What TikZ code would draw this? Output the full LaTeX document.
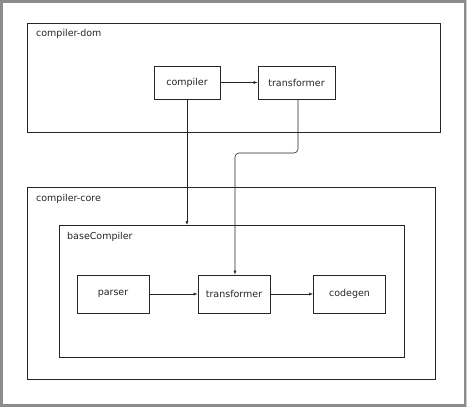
\documentclass[tikz,border=0pt]{standalone}
\usepackage{fontspec}
\setmainfont{DejaVu Sans}
\usetikzlibrary{arrows.meta}
\begin{document}
\begin{tikzpicture}[x=1pt,y=-1pt,
  box/.style={draw=black!85,line width=0.7pt,inner sep=0pt},
  nodebox/.style={draw=black!85,line width=0.8pt,minimum width=#1,inner sep=0pt,font=\fontsize{9.5}{11}\selectfont,text=black!85},
  lbl/.style={anchor=west,font=\fontsize{9.5}{11}\selectfont,text=black!85,inner sep=0pt},
  conn/.style={draw=black!85,line width=0.6pt,-{Latex[length=4pt,width=3pt]}}]
\useasboundingbox (0,0) rectangle (474,407);
\fill[white] (0,0) rectangle (474,407);
\draw[black!45,line width=3pt] (1.5,1.5) rectangle (465,405);
\draw[black!20,line width=1.5pt] (466.5,0) -- (466.5,407);
% containers
\draw[box] (27,23) rectangle (440,132);
\node[lbl] (ldom) at (36,34) {compiler-dom};
\draw[box] (27,187) rectangle (435,379);
\node[lbl] (lcore) at (36,199) {compiler-core};
\draw[box] (59,225) rectangle (404,357);
\coordinate (bctop) at (187,225);
\node[lbl] (lbase) at (67,237) {baseCompiler};
% nodes
\node[nodebox=66pt,minimum height=33pt] (compiler) at (187,82.5) {compiler};
\node[nodebox=77pt,minimum height=33pt] (tdom) at (296.5,82.5) {transformer};
\node[nodebox=72pt,minimum height=38pt] (parser) at (113,294) {parser};
\node[nodebox=72pt,minimum height=38pt] (tcore) at (234,294) {transformer};
\node[nodebox=72pt,minimum height=38pt] (codegen) at (349.5,294) {codegen};
% connectors
\draw[conn] (compiler) -- (tdom);
\draw[conn] (compiler.south) -- (bctop);
\draw[conn,rounded corners=4pt] (tdom.south -| 298,0) |- (235,153) -- (tcore.north -| 235,0);
\draw[conn] (parser) -- (tcore);
\draw[conn] (tcore) -- (codegen);
\end{tikzpicture}
\end{document}
